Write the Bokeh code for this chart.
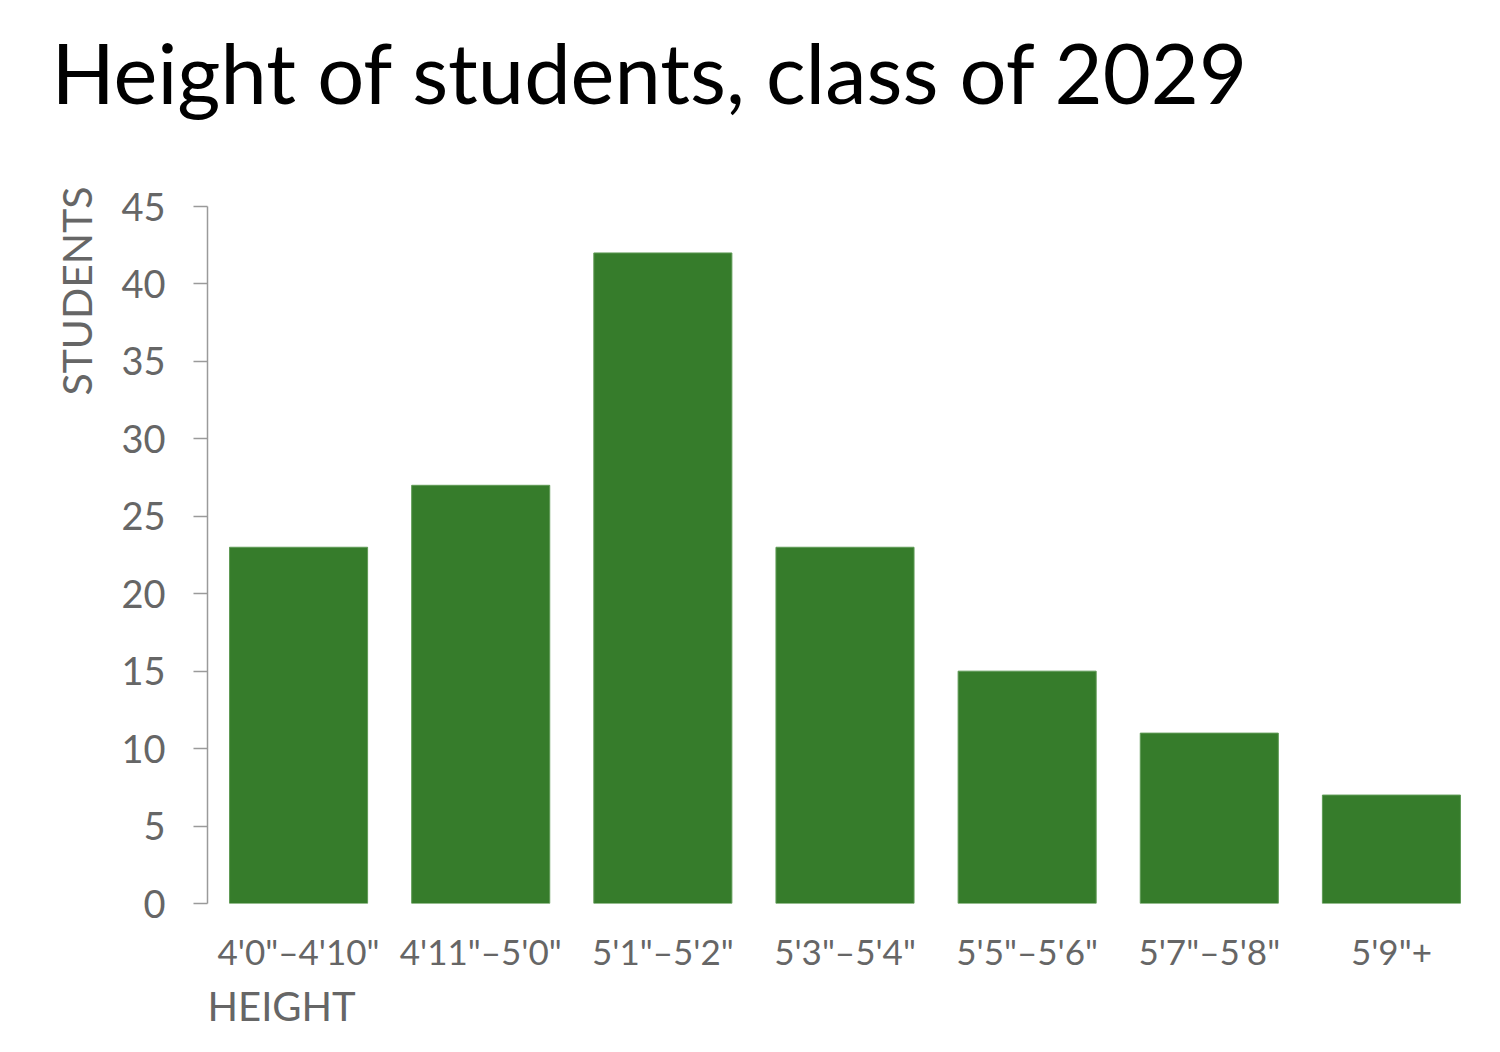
import math
from bokeh.plotting import figure
from bokeh.models import FactorRange, Range1d, Title, ColumnDataSource
from bokeh.embed import file_html
from bokeh.resources import INLINE

categories = ["4'0\"\u20134'10\"", "4'11\"\u20135'0\"", "5'1\"\u20135'2\"", "5'3\"\u20135'4\"",
              "5'5\"\u20135'6\"", "5'7\"\u20135'8\"", "5'9\"+"]
students = [23, 27, 42, 23, 15, 11, 7]
y_ticks = [0, 5, 10, 15, 20, 25, 30, 35, 40, 45]

FONT = "Lato"
GRAY = "#666666"

src = ColumnDataSource(dict(cat=categories, n=students))

p = figure(width=1484, height=1036, output_backend="svg", toolbar_location=None,
           x_range=FactorRange(*categories, range_padding=0), y_range=Range1d(0, 45),
           min_border_left=207, min_border_right=2, min_border_top=206, min_border_bottom=133,
           title=None)

p.vbar(x="cat", top="n", width=0.758, source=src, fill_color="#367c2b",
       line_color="#5f9a55", line_width=1)

p.add_layout(Title(text=" ", text_font_size="61px"), "above")
t = Title(text="Height of students, class of 2029", text_font=FONT, text_font_size="83px",
          text_font_style="normal", text_color="black", align="left", offset=-156)
p.add_layout(t, "above")

p.xgrid.visible = False
p.ygrid.visible = False
p.outline_line_color = None

xa = p.xaxis[0]
xa.axis_line_color = None
xa.major_tick_line_color = None
xa.minor_tick_line_color = None
xa.major_label_text_font = FONT
xa.major_label_text_font_size = "35px"
xa.major_label_text_color = GRAY
xa.major_label_standoff = 20

ya = p.yaxis[0]
ya.ticker = y_ticks
ya.axis_line_color = "#9a9a9a"
ya.axis_line_width = 1.5
ya.major_tick_line_color = "#9a9a9a"
ya.major_tick_line_width = 1.5
ya.major_tick_in = 0
ya.major_tick_out = 14
ya.minor_tick_line_color = None
ya.major_label_text_font = FONT
ya.major_label_text_font_size = "38px"
ya.major_label_text_color = GRAY
ya.major_label_standoff = 28

p.add_layout(Title(text=" ", text_font_size="1px"), "left")
p.add_layout(Title(text="STUDENTS", align="right", offset=-20, text_font=FONT,
                   text_font_size="41px", text_font_style="normal", text_color=GRAY), "left")
p.add_layout(Title(text="HEIGHT", align="left", text_font=FONT, text_font_size="40px",
                   text_font_style="normal", text_color=GRAY), "below")

open("out.html", "w").write(file_html(p, INLINE))
